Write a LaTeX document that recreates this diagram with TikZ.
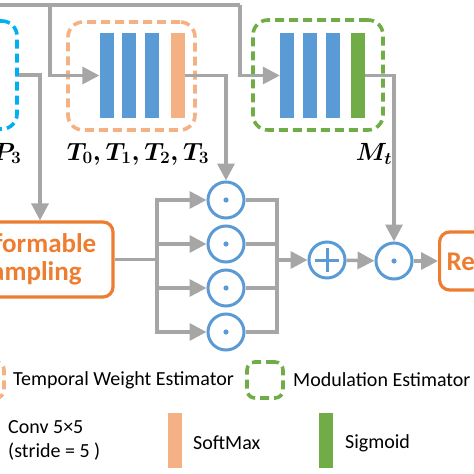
\documentclass[tikz,border=0pt]{standalone}
\usepackage{amsmath}
\usepackage{fontspec}
\setmainfont{Carlito}
\usetikzlibrary{arrows.meta,positioning}
\definecolor{lineGray}{HTML}{A6A6A6}
\definecolor{barBlue}{HTML}{5B9BD5}
\definecolor{softOrange}{HTML}{F4B183}
\definecolor{sigGreen}{HTML}{70AD47}
\definecolor{estBlue}{HTML}{00B0F0}
\definecolor{procOrange}{HTML}{ED7D31}
\begin{document}
\begin{tikzpicture}[x=1pt, y=-1pt,
    conn/.style={draw=lineGray, line width=3.4pt},
    flow/.style={conn, -{Triangle[length=17pt, width=17pt]}},
    estbox/.style={draw, line width=3.6pt, dash pattern=on 9pt off 5pt, rounded corners=15pt,
        minimum width=127, minimum height=108},
    convbar/.style={fill=barBlue, minimum width=14, minimum height=85, inner sep=0pt},
    softbar/.style={convbar, fill=softOrange},
    sigbar/.style={convbar, fill=sigGreen},
    procbox/.style={draw=procOrange, line width=3.2pt, rounded corners=10pt, text=procOrange,
        font=\fontsize{27}{28}\selectfont\bfseries},
    opcirc/.style={circle, draw=barBlue, line width=3pt, minimum size=36, inner sep=0pt},
    opdot/.style={opcirc, path picture={\fill[barBlue] (path picture bounding box.center) circle (2.6pt);}},
    opplus/.style={opcirc, path picture={
        \draw[barBlue, line width=3pt] ([xshift=-12pt]path picture bounding box.center) -- ([xshift=12pt]path picture bounding box.center)
            ([yshift=-12pt]path picture bounding box.center) -- ([yshift=12pt]path picture bounding box.center);}},
    mathlabel/.style={font=\fontsize{23}{26}\selectfont\boldmath},
    legend/.style={font=\fontsize{20}{24}\selectfont, inner sep=0pt}]
    \useasboundingbox (0,0) rectangle (474,474);
    \clip (0,0) rectangle (474,474);
    % estimators
    \node[estbox, draw=estBlue, minimum width=112] (pest) at (-39,75) {};
    \node[estbox, draw=softOrange] (twe) at (131.5,76) {};
    \node[estbox, draw=sigGreen, minimum width=130, minimum height=110] (mod) at (318,75) {};
    % bars
    \node[convbar] (t1) at (106.5,75.5) {};
    \node[convbar] (t2) at (128.5,75.5) {};
    \node[convbar] (t3) at (151.5,75.5) {};
    \node[softbar] (t4) at (177.5,75.5) {};
    \node[convbar] (m1) at (287,75.5) {};
    \node[convbar] (m2) at (310,75.5) {};
    \node[convbar] (m3) at (333,75.5) {};
    \node[sigbar] (m4) at (358,75.5) {};
    % labels
    \node[mathlabel, anchor=east] (plabel) at (25,154) {$P_0, P_1, P_2, P_3$};
    \node[mathlabel] (tlabel) at (138,154) {$T_0, T_1, T_2, T_3$};
    \node[mathlabel] (mlabel) at (374,154) {$M_t$};
    % sampling and output
    \node[procbox, align=center, minimum width=166, minimum height=75] (deform) at (30,259.5) {Deformable\\Sampling};
    \node[procbox, anchor=west, minimum height=58, inner xsep=7pt] (recon) at (438,261) {Reconstruction};
    % operators
    \foreach \i/\y in {1/200,2/244,3/288,4/332}
        \node[opdot] (mul\i) at (226,\y) {};
    \node[opplus] (sum) at (327,260) {};
    \node[opdot] (gate) at (394,261) {};
    % connectors
    \coordinate (feed) at (-5,5);
    \coordinate (split) at (50,5);
    \coordinate (turn) at (240,5);
    \coordinate (busL) at (157,259.5);
    \coordinate (busR) at (277,260);
    \draw[conn] (feed) -- (turn);
    \draw[flow] (turn) |- (m1.west);
    \draw[flow] (split) |- (t1.west);
    \draw[flow] (pest.east) -| ([xshift=10pt]deform.north);
    \draw[flow] (t4.east) -| (mul1.north);
    \draw[flow] (m4.east) -| (gate.north);
    \draw[conn] (deform.east) -- (busL);
    \draw[conn, line cap=rect] (busL |- mul1) -- (busL |- mul4);
    \draw[conn, line cap=rect] (busR |- mul1) -- (busR |- mul4);
    \foreach \i in {1,...,4} {
        \draw[flow] (busL |- mul\i) -- (mul\i.west);
        \draw[conn] (mul\i.east) -- (busR |- mul\i);
    }
    \draw[flow] (busR) -- (sum.west);
    \draw[flow] (sum) -- (gate);
    \draw[flow] (gate) -- (recon);
    % legend
    \node[estbox, draw=softOrange, minimum width=36, minimum height=36, rounded corners=8pt] (legT) at (-14,380) {};
    \node[legend, anchor=west] (legTtext) at (13,380) {Temporal Weight Estimator};
    \node[estbox, draw=sigGreen, minimum width=36, minimum height=36, rounded corners=8pt] (legM) at (265,380) {};
    \node[legend, anchor=west] (legMtext) at (293,380) {Modulation Estimator};
    \node[legend, anchor=west, align=left] (legConv) at (8,440) {Conv 5×5\\(stride = 5 )};
    \node[softbar, minimum height=55] (legS) at (175,440.5) {};
    \node[legend, anchor=west] (legStext) at (193,443) {SoftMax};
    \node[sigbar, minimum height=55] (legG) at (325.5,440.5) {};
    \node[legend, anchor=west] (legGtext) at (345,443) {Sigmoid};
\end{tikzpicture}
\end{document}
